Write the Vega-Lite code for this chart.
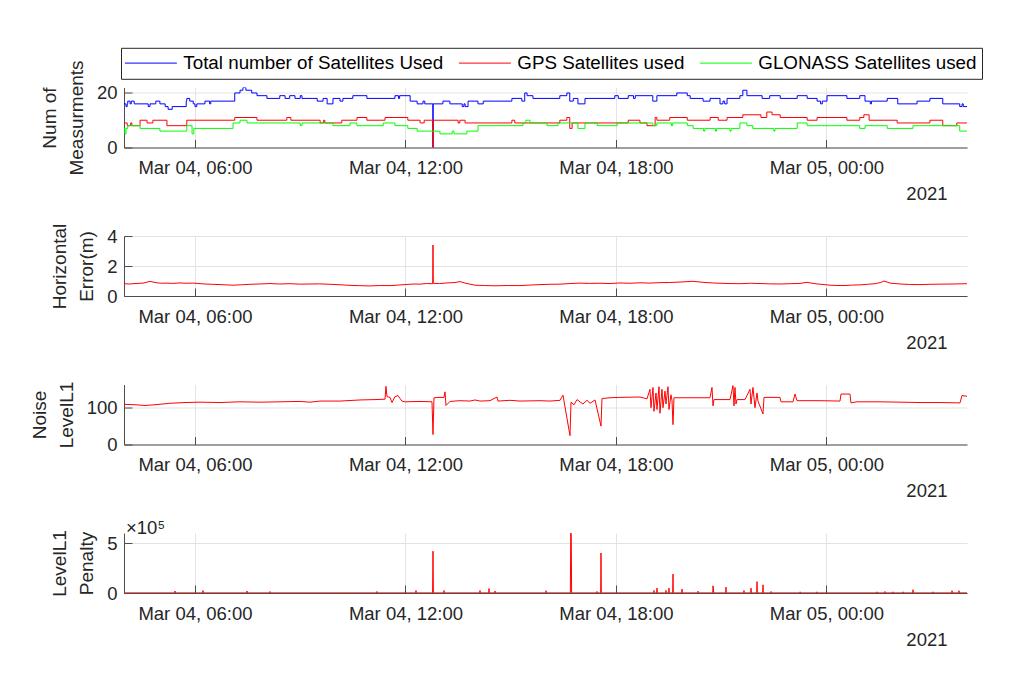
{
"$schema": "https://vega.github.io/schema/vega-lite/v6.json",
"padding": {"left": 30, "top": 46.5, "right": 5, "bottom": 5},
"bounds": "flush",
"spacing": 88.5,
"config": {
  "font": "Liberation Sans",
  "view": {"stroke": null},
  "axis": {"grid": true, "gridColor": "#e3e3e3", "gridWidth": 1, "domainColor": "#4d4d4d", "domainWidth": 1, "tickColor": "#4d4d4d", "tickSize": -8, "tickWidth": 1, "labelFontSize": 18.5, "labelColor": "#262626", "titleColor": "#262626", "titleFontWeight": "normal", "labelFont": "Liberation Sans", "titleFont": "Liberation Sans", "labelOverlap": false},
  "axisX": {"labelPadding": 19, "labelFlush": false},
  "axisY": {"labelPadding": 15, "titlePadding": 10, "titleFontSize": 19, "titleLineHeight": 27}
},
"datasets": {
  "total": [
    {"t":"2021-03-04T03:58:34","n":16},{"t":"2021-03-04T04:02:00","n":15},{"t":"2021-03-04T04:04:00","n":16},{"t":"2021-03-04T04:05:00","n":17},{"t":"2021-03-04T04:09:00","n":16},{"t":"2021-03-04T04:11:00","n":17},{"t":"2021-03-04T04:16:00","n":16},{"t":"2021-03-04T04:40:00","n":15},{"t":"2021-03-04T04:43:00","n":16},{"t":"2021-03-04T04:53:00","n":17},{"t":"2021-03-04T05:00:00","n":16},{"t":"2021-03-04T05:09:00","n":15},{"t":"2021-03-04T05:14:00","n":14},{"t":"2021-03-04T05:21:00","n":15},{"t":"2021-03-04T05:45:00","n":17},{"t":"2021-03-04T05:46:00","n":18},{"t":"2021-03-04T05:51:00","n":17},{"t":"2021-03-04T05:57:00","n":16},{"t":"2021-03-04T06:00:00","n":15},{"t":"2021-03-04T06:03:00","n":16},{"t":"2021-03-04T06:17:00","n":17},{"t":"2021-03-04T06:25:00","n":16},{"t":"2021-03-04T06:27:00","n":17},{"t":"2021-03-04T07:08:00","n":20},{"t":"2021-03-04T07:17:00","n":21},{"t":"2021-03-04T07:22:00","n":22},{"t":"2021-03-04T07:27:00","n":21},{"t":"2021-03-04T07:37:00","n":20},{"t":"2021-03-04T07:46:00","n":19},{"t":"2021-03-04T08:03:00","n":18},{"t":"2021-03-04T08:25:00","n":19},{"t":"2021-03-04T08:34:00","n":18},{"t":"2021-03-04T08:42:00","n":19},{"t":"2021-03-04T08:51:00","n":18},{"t":"2021-03-04T09:00:00","n":19},{"t":"2021-03-04T09:03:00","n":18},{"t":"2021-03-04T09:29:00","n":17},{"t":"2021-03-04T09:39:00","n":18},{"t":"2021-03-04T09:46:00","n":16},{"t":"2021-03-04T09:56:00","n":18},{"t":"2021-03-04T10:08:00","n":17},{"t":"2021-03-04T10:13:00","n":18},{"t":"2021-03-04T10:30:00","n":19},{"t":"2021-03-04T10:54:00","n":18},{"t":"2021-03-04T11:42:00","n":19},{"t":"2021-03-04T11:48:00","n":18},{"t":"2021-03-04T11:50:00","n":19},{"t":"2021-03-04T12:08:00","n":17},{"t":"2021-03-04T12:20:00","n":16},{"t":"2021-03-04T12:30:00","n":17},{"t":"2021-03-04T12:33:00","n":16},{"t":"2021-03-04T12:46:50","n":0},{"t":"2021-03-04T12:47:20","n":16},{"t":"2021-03-04T13:04:00","n":17},{"t":"2021-03-04T13:16:00","n":16},{"t":"2021-03-04T13:37:00","n":15},{"t":"2021-03-04T13:40:00","n":16},{"t":"2021-03-04T13:42:00","n":15},{"t":"2021-03-04T13:47:00","n":17},{"t":"2021-03-04T14:04:00","n":16},{"t":"2021-03-04T14:13:00","n":17},{"t":"2021-03-04T15:02:00","n":18},{"t":"2021-03-04T15:19:00","n":17},{"t":"2021-03-04T15:24:00","n":20},{"t":"2021-03-04T15:28:00","n":19},{"t":"2021-03-04T15:38:00","n":18},{"t":"2021-03-04T16:24:00","n":19},{"t":"2021-03-04T16:36:00","n":20},{"t":"2021-03-04T16:41:00","n":17},{"t":"2021-03-04T16:47:00","n":18},{"t":"2021-03-04T16:55:00","n":16},{"t":"2021-03-04T17:07:00","n":18},{"t":"2021-03-04T17:58:00","n":19},{"t":"2021-03-04T18:04:00","n":18},{"t":"2021-03-04T18:21:00","n":19},{"t":"2021-03-04T18:30:00","n":18},{"t":"2021-03-04T18:33:00","n":19},{"t":"2021-03-04T19:03:00","n":17},{"t":"2021-03-04T19:10:00","n":19},{"t":"2021-03-04T19:44:00","n":20},{"t":"2021-03-04T20:02:00","n":19},{"t":"2021-03-04T20:07:00","n":18},{"t":"2021-03-04T20:29:00","n":17},{"t":"2021-03-04T20:41:00","n":18},{"t":"2021-03-04T20:58:00","n":16},{"t":"2021-03-04T21:03:00","n":17},{"t":"2021-03-04T21:06:00","n":16},{"t":"2021-03-04T21:10:00","n":18},{"t":"2021-03-04T21:32:00","n":19},{"t":"2021-03-04T21:37:00","n":21},{"t":"2021-03-04T21:44:00","n":19},{"t":"2021-03-04T22:10:00","n":18},{"t":"2021-03-04T22:23:00","n":19},{"t":"2021-03-04T22:41:00","n":18},{"t":"2021-03-04T23:10:00","n":19},{"t":"2021-03-04T23:27:00","n":18},{"t":"2021-03-04T23:44:00","n":17},{"t":"2021-03-04T23:50:00","n":16},{"t":"2021-03-04T23:53:00","n":17},{"t":"2021-03-05T00:01:00","n":19},{"t":"2021-03-05T00:35:00","n":18},{"t":"2021-03-05T00:57:00","n":19},{"t":"2021-03-05T01:06:00","n":17},{"t":"2021-03-05T01:15:00","n":16},{"t":"2021-03-05T01:17:00","n":17},{"t":"2021-03-05T01:44:00","n":18},{"t":"2021-03-05T02:02:00","n":16},{"t":"2021-03-05T02:35:00","n":17},{"t":"2021-03-05T02:57:00","n":18},{"t":"2021-03-05T03:19:00","n":16},{"t":"2021-03-05T03:48:00","n":15},{"t":"2021-03-05T03:52:00","n":16},{"t":"2021-03-05T03:54:00","n":15},{"t":"2021-03-05T04:00:26","n":15}
  ],
  "gps": [
    {"t":"2021-03-04T03:58:34","n":9},{"t":"2021-03-04T04:04:00","n":8},{"t":"2021-03-04T04:10:00","n":9},{"t":"2021-03-04T04:12:00","n":8},{"t":"2021-03-04T04:26:00","n":10},{"t":"2021-03-04T04:38:00","n":9},{"t":"2021-03-04T04:48:00","n":10},{"t":"2021-03-04T05:12:00","n":8},{"t":"2021-03-04T05:46:00","n":10},{"t":"2021-03-04T07:08:00","n":11},{"t":"2021-03-04T07:46:00","n":10},{"t":"2021-03-04T08:37:00","n":11},{"t":"2021-03-04T08:44:00","n":10},{"t":"2021-03-04T09:34:00","n":9},{"t":"2021-03-04T09:40:00","n":10},{"t":"2021-03-04T09:42:00","n":9},{"t":"2021-03-04T10:11:00","n":10},{"t":"2021-03-04T10:37:00","n":11},{"t":"2021-03-04T10:54:00","n":10},{"t":"2021-03-04T11:25:00","n":11},{"t":"2021-03-04T12:04:00","n":10},{"t":"2021-03-04T12:25:00","n":9},{"t":"2021-03-04T12:32:00","n":10},{"t":"2021-03-04T12:46:50","n":0},{"t":"2021-03-04T12:47:20","n":10},{"t":"2021-03-04T13:30:00","n":9},{"t":"2021-03-04T13:33:00","n":10},{"t":"2021-03-04T13:42:00","n":9},{"t":"2021-03-04T15:02:00","n":10},{"t":"2021-03-04T15:07:00","n":9},{"t":"2021-03-04T16:24:00","n":10},{"t":"2021-03-04T16:36:00","n":11},{"t":"2021-03-04T16:41:00","n":7},{"t":"2021-03-04T16:45:00","n":9},{"t":"2021-03-04T18:21:00","n":10},{"t":"2021-03-04T18:41:00","n":9},{"t":"2021-03-04T18:53:00","n":8},{"t":"2021-03-04T19:07:00","n":11},{"t":"2021-03-04T19:10:00","n":10},{"t":"2021-03-04T19:32:00","n":11},{"t":"2021-03-04T20:02:00","n":10},{"t":"2021-03-04T20:41:00","n":11},{"t":"2021-03-04T20:55:00","n":10},{"t":"2021-03-04T21:10:00","n":11},{"t":"2021-03-04T21:37:00","n":12},{"t":"2021-03-04T22:08:00","n":11},{"t":"2021-03-04T22:18:00","n":13},{"t":"2021-03-04T22:27:00","n":12},{"t":"2021-03-04T22:41:00","n":11},{"t":"2021-03-04T23:27:00","n":10},{"t":"2021-03-04T23:44:00","n":11},{"t":"2021-03-05T00:35:00","n":10},{"t":"2021-03-05T00:57:00","n":11},{"t":"2021-03-05T01:04:00","n":12},{"t":"2021-03-05T01:13:00","n":10},{"t":"2021-03-05T02:01:00","n":9},{"t":"2021-03-05T02:57:00","n":10},{"t":"2021-03-05T03:19:00","n":8},{"t":"2021-03-05T03:43:00","n":9},{"t":"2021-03-05T04:00:26","n":9}
  ],
  "glonass": [
    {"t":"2021-03-04T03:58:34","n":7},{"t":"2021-03-04T04:00:00","n":5},{"t":"2021-03-04T04:02:00","n":7},{"t":"2021-03-04T04:05:00","n":8},{"t":"2021-03-04T04:26:00","n":7},{"t":"2021-03-04T05:00:00","n":6},{"t":"2021-03-04T05:46:00","n":8},{"t":"2021-03-04T05:55:00","n":5},{"t":"2021-03-04T05:58:00","n":7},{"t":"2021-03-04T07:05:00","n":9},{"t":"2021-03-04T07:17:00","n":10},{"t":"2021-03-04T07:29:00","n":9},{"t":"2021-03-04T09:00:00","n":8},{"t":"2021-03-04T09:03:00","n":9},{"t":"2021-03-04T09:56:00","n":8},{"t":"2021-03-04T10:25:00","n":9},{"t":"2021-03-04T10:37:00","n":8},{"t":"2021-03-04T11:22:00","n":9},{"t":"2021-03-04T11:42:00","n":8},{"t":"2021-03-04T12:04:00","n":7},{"t":"2021-03-04T12:20:00","n":6},{"t":"2021-03-04T12:59:00","n":5},{"t":"2021-03-04T13:20:00","n":6},{"t":"2021-03-04T13:23:00","n":5},{"t":"2021-03-04T13:45:00","n":6},{"t":"2021-03-04T14:04:00","n":8},{"t":"2021-03-04T15:21:00","n":9},{"t":"2021-03-04T15:26:00","n":10},{"t":"2021-03-04T15:33:00","n":9},{"t":"2021-03-04T16:02:00","n":8},{"t":"2021-03-04T16:21:00","n":9},{"t":"2021-03-04T16:55:00","n":7},{"t":"2021-03-04T17:07:00","n":9},{"t":"2021-03-04T17:28:00","n":8},{"t":"2021-03-04T18:02:00","n":9},{"t":"2021-03-04T19:03:00","n":8},{"t":"2021-03-04T19:10:00","n":9},{"t":"2021-03-04T19:35:00","n":8},{"t":"2021-03-04T19:37:00","n":9},{"t":"2021-03-04T20:02:00","n":8},{"t":"2021-03-04T20:12:00","n":7},{"t":"2021-03-04T20:30:00","n":6},{"t":"2021-03-04T20:32:00","n":7},{"t":"2021-03-04T20:50:00","n":6},{"t":"2021-03-04T20:52:00","n":7},{"t":"2021-03-04T21:15:00","n":6},{"t":"2021-03-04T21:17:00","n":7},{"t":"2021-03-04T21:32:00","n":9},{"t":"2021-03-04T21:44:00","n":8},{"t":"2021-03-04T21:54:00","n":7},{"t":"2021-03-04T22:30:00","n":6},{"t":"2021-03-04T22:32:00","n":7},{"t":"2021-03-04T23:10:00","n":9},{"t":"2021-03-04T23:27:00","n":8},{"t":"2021-03-05T00:57:00","n":7},{"t":"2021-03-05T01:06:00","n":8},{"t":"2021-03-05T01:44:00","n":7},{"t":"2021-03-05T02:28:00","n":8},{"t":"2021-03-05T03:48:00","n":6},{"t":"2021-03-05T04:00:26","n":6}
  ],
  "he": [
    {"t":"2021-03-04T03:58:34","v":0.82},{"t":"2021-03-04T04:08:00","v":0.80},{"t":"2021-03-04T04:17:22","v":0.83},{"t":"2021-03-04T04:31:04","v":0.86},{"t":"2021-03-04T04:43:02","v":0.97},{"t":"2021-03-04T04:55:00","v":0.88},{"t":"2021-03-04T05:03:00","v":0.85},{"t":"2021-03-04T05:12:07","v":0.86},{"t":"2021-03-04T05:22:00","v":0.84},{"t":"2021-03-04T05:34:20","v":0.87},{"t":"2021-03-04T05:45:00","v":0.85},{"t":"2021-03-04T05:56:35","v":0.86},{"t":"2021-03-04T06:17:06","v":0.80},{"t":"2021-03-04T06:30:00","v":0.78},{"t":"2021-03-04T06:42:46","v":0.76},{"t":"2021-03-04T07:05:00","v":0.72},{"t":"2021-03-04T07:20:00","v":0.75},{"t":"2021-03-04T07:34:04","v":0.78},{"t":"2021-03-04T07:50:00","v":0.80},{"t":"2021-03-04T08:08:17","v":0.83},{"t":"2021-03-04T08:25:00","v":0.80},{"t":"2021-03-04T08:42:29","v":0.82},{"t":"2021-03-04T09:00:00","v":0.79},{"t":"2021-03-04T09:16:41","v":0.80},{"t":"2021-03-04T09:33:00","v":0.81},{"t":"2021-03-04T09:50:54","v":0.78},{"t":"2021-03-04T10:08:00","v":0.75},{"t":"2021-03-04T10:25:07","v":0.71},{"t":"2021-03-04T10:42:00","v":0.69},{"t":"2021-03-04T10:59:19","v":0.67},{"t":"2021-03-04T11:16:00","v":0.70},{"t":"2021-03-04T11:33:32","v":0.69},{"t":"2021-03-04T11:48:00","v":0.73},{"t":"2021-03-04T12:02:36","v":0.77},{"t":"2021-03-04T12:14:00","v":0.80},{"t":"2021-03-04T12:24:50","v":0.79},{"t":"2021-03-04T12:36:00","v":0.83},{"t":"2021-03-04T12:46:34","v":0.82},{"t":"2021-03-04T12:47:04","v":3.40},{"t":"2021-03-04T12:47:34","v":0.84},{"t":"2021-03-04T12:58:00","v":0.83},{"t":"2021-03-04T13:07:36","v":0.86},{"t":"2021-03-04T13:24:42","v":0.90},{"t":"2021-03-04T13:33:16","v":0.96},{"t":"2021-03-04T13:41:49","v":0.86},{"t":"2021-03-04T13:58:55","v":0.72},{"t":"2021-03-04T14:15:00","v":0.70},{"t":"2021-03-04T14:33:07","v":0.68},{"t":"2021-03-04T14:55:00","v":0.70},{"t":"2021-03-04T15:15:53","v":0.69},{"t":"2021-03-04T15:33:00","v":0.73},{"t":"2021-03-04T15:50:05","v":0.76},{"t":"2021-03-04T16:07:00","v":0.78},{"t":"2021-03-04T16:24:17","v":0.79},{"t":"2021-03-04T16:41:00","v":0.83},{"t":"2021-03-04T16:58:30","v":0.86},{"t":"2021-03-04T17:15:00","v":0.84},{"t":"2021-03-04T17:32:43","v":0.85},{"t":"2021-03-04T17:50:00","v":0.83},{"t":"2021-03-04T18:06:55","v":0.87},{"t":"2021-03-04T18:24:00","v":0.85},{"t":"2021-03-04T18:41:08","v":0.88},{"t":"2021-03-04T18:58:00","v":0.86},{"t":"2021-03-04T19:15:20","v":0.89},{"t":"2021-03-04T19:32:00","v":0.90},{"t":"2021-03-04T19:49:32","v":0.93},{"t":"2021-03-04T20:11:47","v":0.98},{"t":"2021-03-04T20:32:18","v":0.90},{"t":"2021-03-04T20:45:00","v":0.87},{"t":"2021-03-04T20:57:58","v":0.85},{"t":"2021-03-04T21:15:00","v":0.83},{"t":"2021-03-04T21:32:10","v":0.82},{"t":"2021-03-04T21:50:00","v":0.85},{"t":"2021-03-04T22:06:22","v":0.83},{"t":"2021-03-04T22:23:00","v":0.81},{"t":"2021-03-04T22:40:35","v":0.80},{"t":"2021-03-04T22:58:00","v":0.82},{"t":"2021-03-04T23:14:47","v":0.84},{"t":"2021-03-04T23:26:46","v":0.91},{"t":"2021-03-04T23:40:26","v":0.82},{"t":"2021-03-05T00:06:06","v":0.72},{"t":"2021-03-05T00:18:00","v":0.70},{"t":"2021-03-05T00:31:46","v":0.70},{"t":"2021-03-05T00:45:00","v":0.73},{"t":"2021-03-05T00:57:25","v":0.74},{"t":"2021-03-05T01:10:00","v":0.78},{"t":"2021-03-05T01:23:04","v":0.82},{"t":"2021-03-05T01:33:00","v":0.90},{"t":"2021-03-05T01:38:28","v":1.00},{"t":"2021-03-05T01:48:44","v":0.86},{"t":"2021-03-05T02:05:50","v":0.80},{"t":"2021-03-05T02:22:00","v":0.77},{"t":"2021-03-05T02:40:02","v":0.76},{"t":"2021-03-05T02:57:00","v":0.78},{"t":"2021-03-05T03:14:14","v":0.79},{"t":"2021-03-05T03:35:00","v":0.80},{"t":"2021-03-05T04:00:26","v":0.82}
  ],
  "noise": [
    {"t":"2021-03-04T03:58:34","v":109},{"t":"2021-03-04T04:17:22","v":108},{"t":"2021-03-04T04:34:29","v":106},{"t":"2021-03-04T04:51:35","v":108},{"t":"2021-03-04T05:17:14","v":112},{"t":"2021-03-04T05:42:53","v":114},{"t":"2021-03-04T06:08:33","v":115},{"t":"2021-03-04T06:42:46","v":114},{"t":"2021-03-04T07:16:58","v":116},{"t":"2021-03-04T07:51:10","v":115},{"t":"2021-03-04T08:25:23","v":116},{"t":"2021-03-04T08:59:35","v":117},{"t":"2021-03-04T09:16:41","v":115},{"t":"2021-03-04T09:33:48","v":118},{"t":"2021-03-04T10:08:00","v":118},{"t":"2021-03-04T10:42:13","v":121},{"t":"2021-03-04T11:07:52","v":122},{"t":"2021-03-04T11:24:58","v":123},{"t":"2021-03-04T11:26:41","v":158},{"t":"2021-03-04T11:28:23","v":130},{"t":"2021-03-04T11:33:32","v":128},{"t":"2021-03-04T11:36:57","v":114},{"t":"2021-03-04T11:42:05","v":130},{"t":"2021-03-04T11:47:13","v":133},{"t":"2021-03-04T11:50:38","v":125},{"t":"2021-03-04T11:54:03","v":118},{"t":"2021-03-04T11:59:11","v":116},{"t":"2021-03-04T12:24:50","v":117},{"t":"2021-03-04T12:45:22","v":116},{"t":"2021-03-04T12:47:04","v":27},{"t":"2021-03-04T12:48:47","v":127},{"t":"2021-03-04T12:59:03","v":128},{"t":"2021-03-04T13:05:53","v":128},{"t":"2021-03-04T13:07:36","v":143},{"t":"2021-03-04T13:09:19","v":106},{"t":"2021-03-04T13:16:09","v":117},{"t":"2021-03-04T13:33:16","v":119},{"t":"2021-03-04T13:50:22","v":118},{"t":"2021-03-04T13:58:55","v":121},{"t":"2021-03-04T14:07:28","v":118},{"t":"2021-03-04T14:24:34","v":119},{"t":"2021-03-04T14:36:32","v":129},{"t":"2021-03-04T14:38:15","v":118},{"t":"2021-03-04T14:58:46","v":120},{"t":"2021-03-04T15:15:53","v":118},{"t":"2021-03-04T15:50:05","v":119},{"t":"2021-03-04T16:07:11","v":118},{"t":"2021-03-04T16:24:17","v":120},{"t":"2021-03-04T16:29:25","v":134},{"t":"2021-03-04T16:31:08","v":118},{"t":"2021-03-04T16:41:24","v":24},{"t":"2021-03-04T16:43:07","v":115},{"t":"2021-03-04T16:48:14","v":108},{"t":"2021-03-04T16:53:22","v":122},{"t":"2021-03-04T17:03:38","v":110},{"t":"2021-03-04T17:10:28","v":120},{"t":"2021-03-04T17:15:37","v":112},{"t":"2021-03-04T17:24:10","v":121},{"t":"2021-03-04T17:34:25","v":50},{"t":"2021-03-04T17:36:08","v":125},{"t":"2021-03-04T17:49:49","v":127},{"t":"2021-03-04T18:06:55","v":128},{"t":"2021-03-04T18:41:08","v":129},{"t":"2021-03-04T18:53:06","v":124},{"t":"2021-03-04T18:58:14","v":150},{"t":"2021-03-04T18:59:56","v":100},{"t":"2021-03-04T19:03:22","v":155},{"t":"2021-03-04T19:05:04","v":90},{"t":"2021-03-04T19:08:29","v":140},{"t":"2021-03-04T19:10:12","v":95},{"t":"2021-03-04T19:13:37","v":157},{"t":"2021-03-04T19:15:20","v":85},{"t":"2021-03-04T19:18:45","v":150},{"t":"2021-03-04T19:20:28","v":100},{"t":"2021-03-04T19:23:53","v":145},{"t":"2021-03-04T19:25:35","v":110},{"t":"2021-03-04T19:29:01","v":157},{"t":"2021-03-04T19:30:43","v":95},{"t":"2021-03-04T19:34:08","v":135},{"t":"2021-03-04T19:35:51","v":120},{"t":"2021-03-04T19:37:34","v":54},{"t":"2021-03-04T19:39:16","v":127},{"t":"2021-03-04T20:06:38","v":127},{"t":"2021-03-04T20:40:50","v":127},{"t":"2021-03-04T20:44:16","v":155},{"t":"2021-03-04T20:45:59","v":105},{"t":"2021-03-04T20:47:41","v":122},{"t":"2021-03-04T21:15:04","v":122},{"t":"2021-03-04T21:20:11","v":160},{"t":"2021-03-04T21:21:54","v":105},{"t":"2021-03-04T21:23:37","v":155},{"t":"2021-03-04T21:25:19","v":110},{"t":"2021-03-04T21:27:02","v":122},{"t":"2021-03-04T21:40:43","v":122},{"t":"2021-03-04T21:49:16","v":150},{"t":"2021-03-04T21:50:59","v":110},{"t":"2021-03-04T21:54:24","v":155},{"t":"2021-03-04T21:57:49","v":100},{"t":"2021-03-04T22:01:14","v":140},{"t":"2021-03-04T22:02:57","v":118},{"t":"2021-03-04T22:11:30","v":83},{"t":"2021-03-04T22:13:13","v":128},{"t":"2021-03-04T22:40:35","v":128},{"t":"2021-03-04T22:42:17","v":116},{"t":"2021-03-04T23:02:49","v":116},{"t":"2021-03-04T23:06:14","v":137},{"t":"2021-03-04T23:09:39","v":119},{"t":"2021-03-04T23:48:59","v":119},{"t":"2021-03-05T00:23:12","v":118},{"t":"2021-03-05T00:24:55","v":137},{"t":"2021-03-05T00:40:18","v":137},{"t":"2021-03-05T00:42:01","v":113},{"t":"2021-03-05T00:52:17","v":116},{"t":"2021-03-05T01:31:37","v":116},{"t":"2021-03-05T02:05:50","v":115},{"t":"2021-03-05T02:40:02","v":114},{"t":"2021-03-05T03:14:14","v":114},{"t":"2021-03-05T03:48:27","v":113},{"t":"2021-03-05T03:51:52","v":133},{"t":"2021-03-05T04:00:26","v":131}
  ],
  "pen": [
    {"t":"2021-03-04T03:58:34","v":1000},
    {"t":"2021-03-04T05:25:17","v":1000},{"t":"2021-03-04T05:25:47","v":20000},{"t":"2021-03-04T05:26:17","v":1000},
    {"t":"2021-03-04T06:13:11","v":1000},{"t":"2021-03-04T06:13:41","v":25000},{"t":"2021-03-04T06:14:11","v":1000},
    {"t":"2021-03-04T07:28:26","v":1000},{"t":"2021-03-04T07:28:56","v":20000},{"t":"2021-03-04T07:29:26","v":1000},
    {"t":"2021-03-04T08:07:47","v":1000},{"t":"2021-03-04T08:08:17","v":15000},{"t":"2021-03-04T08:08:47","v":1000},
    {"t":"2021-03-04T11:10:47","v":1000},{"t":"2021-03-04T11:11:17","v":15000},{"t":"2021-03-04T11:11:47","v":1000},
    {"t":"2021-03-04T12:17:29","v":1000},{"t":"2021-03-04T12:17:59","v":25000},{"t":"2021-03-04T12:18:29","v":1000},
    {"t":"2021-03-04T12:46:24","v":1000},{"t":"2021-03-04T12:47:04","v":418000},{"t":"2021-03-04T12:47:44","v":1000},
    {"t":"2021-03-04T13:05:23","v":1000},{"t":"2021-03-04T13:05:53","v":25000},{"t":"2021-03-04T13:06:23","v":1000},
    {"t":"2021-03-04T14:06:58","v":1000},{"t":"2021-03-04T14:07:28","v":25000},{"t":"2021-03-04T14:07:58","v":1000},
    {"t":"2021-03-04T14:22:22","v":1000},{"t":"2021-03-04T14:22:52","v":45000},{"t":"2021-03-04T14:23:22","v":1000},
    {"t":"2021-03-04T14:32:37","v":1000},{"t":"2021-03-04T14:33:07","v":20000},{"t":"2021-03-04T14:33:37","v":1000},
    {"t":"2021-03-04T15:59:51","v":1000},{"t":"2021-03-04T16:00:21","v":23000},{"t":"2021-03-04T16:00:51","v":1000},
    {"t":"2021-03-04T16:42:00","v":1000},{"t":"2021-03-04T16:42:40","v":600000},{"t":"2021-03-04T16:43:30","v":590000},{"t":"2021-03-04T16:44:10","v":1000},
    {"t":"2021-03-04T17:27:05","v":1000},{"t":"2021-03-04T17:27:35","v":15000},{"t":"2021-03-04T17:28:05","v":1000},
    {"t":"2021-03-04T17:33:55","v":1000},{"t":"2021-03-04T17:34:25","v":400000},{"t":"2021-03-04T17:34:55","v":1000},
    {"t":"2021-03-04T19:04:34","v":1000},{"t":"2021-03-04T19:05:04","v":26000},{"t":"2021-03-04T19:05:34","v":1000},
    {"t":"2021-03-04T19:09:42","v":1000},{"t":"2021-03-04T19:10:12","v":49000},{"t":"2021-03-04T19:10:42","v":1000},
    {"t":"2021-03-04T19:25:06","v":1000},{"t":"2021-03-04T19:25:36","v":26000},{"t":"2021-03-04T19:26:06","v":1000},
    {"t":"2021-03-04T19:30:12","v":1000},{"t":"2021-03-04T19:30:42","v":49000},{"t":"2021-03-04T19:31:12","v":1000},
    {"t":"2021-03-04T19:37:06","v":1000},{"t":"2021-03-04T19:37:36","v":190000},{"t":"2021-03-04T19:38:06","v":1000},
    {"t":"2021-03-04T19:52:30","v":1000},{"t":"2021-03-04T19:53:00","v":39000},{"t":"2021-03-04T19:53:30","v":1000},
    {"t":"2021-03-04T20:19:48","v":1000},{"t":"2021-03-04T20:20:18","v":18000},{"t":"2021-03-04T20:20:48","v":1000},
    {"t":"2021-03-04T20:45:30","v":1000},{"t":"2021-03-04T20:46:00","v":72000},{"t":"2021-03-04T20:46:40","v":40000},{"t":"2021-03-04T20:47:10","v":1000},
    {"t":"2021-03-04T21:07:42","v":1000},{"t":"2021-03-04T21:08:12","v":59000},{"t":"2021-03-04T21:08:42","v":1000},
    {"t":"2021-03-04T21:38:30","v":1000},{"t":"2021-03-04T21:39:00","v":25000},{"t":"2021-03-04T21:39:30","v":1000},
    {"t":"2021-03-04T21:50:30","v":1000},{"t":"2021-03-04T21:51:00","v":49000},{"t":"2021-03-04T21:51:30","v":1000},
    {"t":"2021-03-04T22:00:48","v":1000},{"t":"2021-03-04T22:01:18","v":114000},{"t":"2021-03-04T22:01:48","v":1000},
    {"t":"2021-03-04T22:11:00","v":1000},{"t":"2021-03-04T22:11:30","v":82000},{"t":"2021-03-04T22:12:00","v":1000},
    {"t":"2021-03-04T22:24:42","v":1000},{"t":"2021-03-04T22:25:12","v":15000},{"t":"2021-03-04T22:25:42","v":1000},
    {"t":"2021-03-04T23:14:30","v":1000},{"t":"2021-03-04T23:15:00","v":12000},{"t":"2021-03-04T23:15:30","v":1000},
    {"t":"2021-03-04T23:43:24","v":1000},{"t":"2021-03-04T23:43:54","v":12000},{"t":"2021-03-04T23:44:24","v":1000},
    {"t":"2021-03-05T01:26:00","v":1000},{"t":"2021-03-05T01:26:30","v":12000},{"t":"2021-03-05T01:27:00","v":1000},
    {"t":"2021-03-05T01:39:42","v":1000},{"t":"2021-03-05T01:40:12","v":15000},{"t":"2021-03-05T01:40:42","v":1000},
    {"t":"2021-03-05T01:53:18","v":1000},{"t":"2021-03-05T01:53:48","v":12000},{"t":"2021-03-05T01:54:18","v":1000},
    {"t":"2021-03-05T02:10:30","v":1000},{"t":"2021-03-05T02:11:00","v":12000},{"t":"2021-03-05T02:11:30","v":1000},
    {"t":"2021-03-05T02:27:36","v":1000},{"t":"2021-03-05T02:28:06","v":33000},{"t":"2021-03-05T02:28:36","v":1000},
    {"t":"2021-03-05T03:01:48","v":1000},{"t":"2021-03-05T03:02:18","v":12000},{"t":"2021-03-05T03:02:48","v":1000},
    {"t":"2021-03-05T03:34:18","v":1000},{"t":"2021-03-05T03:34:48","v":23000},{"t":"2021-03-05T03:35:18","v":1000},
    {"t":"2021-03-05T03:46:12","v":1000},{"t":"2021-03-05T03:46:42","v":23000},{"t":"2021-03-05T03:47:12","v":1000},
    {"t":"2021-03-05T04:00:26","v":1000}
  ]
},
"vconcat": [
  {
    "width": 843, "height": 60,
    "layer": [
      {"data": {"name": "total"}, "mark": {"type": "line", "interpolate": "step-after", "strokeWidth": 1, "clip": true},
       "encoding": {
         "x": {"field": "t", "type": "temporal", "scale": {"domain": [{"year":2021,"month":3,"date":4,"hours":3,"minutes":58,"seconds":34},{"year":2021,"month":3,"date":5,"hours":4,"minutes":0,"seconds":26}]},
               "axis": {"values": [{"year":2021,"month":3,"date":4,"hours":6},{"year":2021,"month":3,"date":4,"hours":12},{"year":2021,"month":3,"date":4,"hours":18},{"year":2021,"month":3,"date":5,"hours":0}], "format": "%b %d, %H:%M", "title": "2021", "titleX": 823, "titleY": 52, "titleAlign": "right", "titleBaseline": "alphabetic", "titleFontSize": 18.5}},
         "y": {"field": "n", "type": "quantitative", "scale": {"domain": [0, 22]}, "axis": {"values": [0, 10, 20], "title": ["Num of", "Measurments"]}},
         "color": {"datum": "Total number of Satellites Used", "type": "nominal",
                   "scale": {"domain": ["Total number of Satellites Used", "GPS Satellites used", "GLONASS Satellites used"], "range": ["#0000ff", "#ff0000", "#00ff00"]},
                   "legend": {"orient": "none", "legendX": -3, "legendY": -39.7, "direction": "horizontal", "title": null, "symbolType": "M-5,0H5", "symbolSize": 108, "symbolStrokeWidth": 1, "symbolOffset": 15, "labelOffset": 23, "labelFontSize": 18.8, "labelColor": "#000000", "labelLimit": 600, "columnPadding": 13, "padding": 5.5, "strokeColor": "#262626", "fillColor": "#ffffff"}}
       }},
      {"data": {"name": "gps"}, "mark": {"type": "line", "interpolate": "step-after", "strokeWidth": 1, "clip": true},
       "encoding": {"x": {"field": "t", "type": "temporal"}, "y": {"field": "n", "type": "quantitative"}, "color": {"datum": "GPS Satellites used", "type": "nominal"}}},
      {"data": {"name": "glonass"}, "mark": {"type": "line", "interpolate": "step-after", "strokeWidth": 1, "clip": true},
       "encoding": {"x": {"field": "t", "type": "temporal"}, "y": {"field": "n", "type": "quantitative"}, "color": {"datum": "GLONASS Satellites used", "type": "nominal"}}}
    ]
  },
  {
    "width": 843, "height": 60,
    "data": {"name": "he"},
    "mark": {"type": "line", "color": "#ff0000", "strokeWidth": 1, "clip": true},
    "encoding": {
      "x": {"field": "t", "type": "temporal", "scale": {"domain": [{"year":2021,"month":3,"date":4,"hours":3,"minutes":58,"seconds":34},{"year":2021,"month":3,"date":5,"hours":4,"minutes":0,"seconds":26}]},
            "axis": {"values": [{"year":2021,"month":3,"date":4,"hours":6},{"year":2021,"month":3,"date":4,"hours":12},{"year":2021,"month":3,"date":4,"hours":18},{"year":2021,"month":3,"date":5,"hours":0}], "format": "%b %d, %H:%M", "title": "2021", "titleX": 823, "titleY": 52, "titleAlign": "right", "titleBaseline": "alphabetic", "titleFontSize": 18.5}},
      "y": {"field": "v", "type": "quantitative", "scale": {"domain": [0, 4]}, "axis": {"values": [0, 2, 4], "title": ["Horizontal", "Error(m)"]}}
    }
  },
  {
    "width": 843, "height": 60,
    "data": {"name": "noise"},
    "mark": {"type": "line", "color": "#ff0000", "strokeWidth": 1, "clip": true},
    "encoding": {
      "x": {"field": "t", "type": "temporal", "scale": {"domain": [{"year":2021,"month":3,"date":4,"hours":3,"minutes":58,"seconds":34},{"year":2021,"month":3,"date":5,"hours":4,"minutes":0,"seconds":26}]},
            "axis": {"values": [{"year":2021,"month":3,"date":4,"hours":6},{"year":2021,"month":3,"date":4,"hours":12},{"year":2021,"month":3,"date":4,"hours":18},{"year":2021,"month":3,"date":5,"hours":0}], "format": "%b %d, %H:%M", "title": "2021", "titleX": 823, "titleY": 52, "titleAlign": "right", "titleBaseline": "alphabetic", "titleFontSize": 18.5}},
      "y": {"field": "v", "type": "quantitative", "scale": {"domain": [0, 163]}, "axis": {"values": [0, 100], "title": ["Noise", "LevelL1"]}}
    }
  },
  {
    "width": 843, "height": 60,
    "title": {"text": "×10⁵", "anchor": "start", "frame": "group", "offset": -23, "fontSize": 18.5, "fontWeight": "normal", "color": "#262626", "baseline": "alphabetic", "dx": 2},
    "data": {"name": "pen"},
    "mark": {"type": "line", "color": "#ff0000", "strokeWidth": 1, "clip": true},
    "encoding": {
      "x": {"field": "t", "type": "temporal", "scale": {"domain": [{"year":2021,"month":3,"date":4,"hours":3,"minutes":58,"seconds":34},{"year":2021,"month":3,"date":5,"hours":4,"minutes":0,"seconds":26}]},
            "axis": {"values": [{"year":2021,"month":3,"date":4,"hours":6},{"year":2021,"month":3,"date":4,"hours":12},{"year":2021,"month":3,"date":4,"hours":18},{"year":2021,"month":3,"date":5,"hours":0}], "format": "%b %d, %H:%M", "title": "2021", "titleX": 823, "titleY": 52, "titleAlign": "right", "titleBaseline": "alphabetic", "titleFontSize": 18.5}},
      "y": {"field": "v", "type": "quantitative", "scale": {"domain": [0, 600000]}, "axis": {"values": [0, 500000], "labelExpr": "datum.value / 100000", "title": ["LevelL1", "Penalty"]}}
    }
  }
]
}
